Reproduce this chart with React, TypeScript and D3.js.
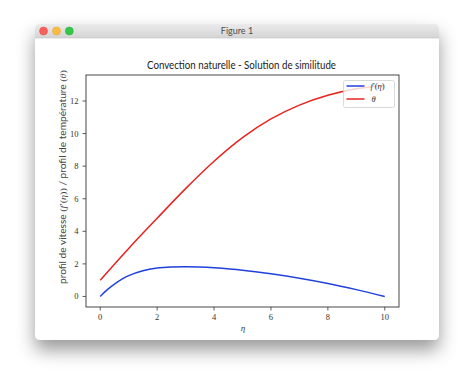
import React from "react";
import * as d3 from "d3";

const etaF = [0, 0.25, 0.5, 0.75, 1, 1.5, 2, 2.5, 3, 3.5, 4, 5, 6, 7, 8, 9, 10];
const fPrime = [0, 0.42, 0.76, 1.05, 1.28, 1.58, 1.74, 1.81, 1.83, 1.81, 1.76, 1.61, 1.39, 1.12, 0.8, 0.42, 0];
const etaT = [0, 1, 2, 3, 4, 5, 6, 7, 8, 9, 10];
const theta = [1.0, 2.95, 4.8, 6.62, 8.3, 9.75, 10.9, 11.75, 12.35, 12.75, 12.95];
const xTicks = [0, 2, 4, 6, 8, 10];
const yTicks = [0, 2, 4, 6, 8, 10, 12];
const titleText = "Convection naturelle - Solution de similitude";

export default function App() {
  const W = 474, H = 387;
  const L = 86, R = 399, T = 75, B = 307;
  const x = d3.scaleLinear().domain([-0.5, 10.5]).range([L, R]);
  const yMax = 12.95;
  const y = d3.scaleLinear().domain([-0.05 * yMax, yMax * 1.05]).range([B, T]);
  const line = d3.line<[number, number]>().x(d => x(d[0])).y(d => y(d[1])).curve(d3.curveCatmullRom.alpha(0.5));
  const fData = etaF.map((e, i) => [e, fPrime[i]] as [number, number]);
  const tData = etaT.map((e, i) => [e, theta[i]] as [number, number]);
  const blue = "#2141dc";
  const red = "#e8231f";
  const serif = "'Liberation Serif', 'DejaVu Serif', serif";
  const sans = "Lato, 'DejaVu Sans', sans-serif";
  return (
    <svg width={W} height={H} style={{ position: "fixed", left: 0, top: 0, background: "#fff" }}>
      <defs>
        <filter id="sh" x="-20%" y="-20%" width="140%" height="150%">
          <feDropShadow dx="0" dy="10" stdDeviation="9" floodColor="#000" floodOpacity="0.4" />
        </filter>
        <linearGradient id="tb" x1="0" y1="0" x2="0" y2="1">
          <stop offset="0" stopColor="#ebebeb" />
          <stop offset="1" stopColor="#d4d4d4" />
        </linearGradient>
        <clipPath id="clip"><rect x={L} y={T} width={R - L} height={B - T} /></clipPath>
      </defs>
      <rect x={0} y={0} width={W} height={H} fill="#fff" />
      <rect x={35} y={24} width={404} height={316} rx={5} fill="#fff" filter="url(#sh)" />
      <path d={`M35,38 L35,29 Q35,24 40,24 L434,24 Q439,24 439,29 L439,38 Z`} fill="url(#tb)" />
      <line x1={35} x2={439} y1={38} y2={38} stroke="#c4c4c4" strokeWidth={0.6} />
      <circle cx={43.5} cy={31} r={4} fill="#fc605b" stroke="#de4a45" strokeWidth={0.5} />
      <circle cx={56.5} cy={31} r={4} fill="#fdbc40" stroke="#de9f34" strokeWidth={0.5} />
      <circle cx={69.3} cy={31} r={4} fill="#34c84a" stroke="#27aa35" strokeWidth={0.5} />
      <text x={237} y={34} textAnchor="middle" fontFamily={sans} fontSize={9} fill="#4d4d4d">Figure 1</text>

      <text x={241.5} y={68.5} textAnchor="middle" fontFamily={sans} fontSize={11} fill="#222" textLength={189} lengthAdjust="spacingAndGlyphs">{titleText}</text>

      <g clipPath="url(#clip)">
        <path d={line(tData) || ""} fill="none" stroke={red} strokeWidth={1.5} />
        <path d={line(fData) || ""} fill="none" stroke={blue} strokeWidth={1.5} />
      </g>
      <rect x={L} y={T} width={R - L} height={B - T} fill="none" stroke="#333" strokeWidth={0.9} />

      {xTicks.map(t => (
        <g key={"x" + t}>
          <line x1={x(t)} x2={x(t)} y1={B} y2={B + 3.5} stroke="#333" strokeWidth={0.8} />
          <text x={x(t)} y={319.5} textAnchor="middle" fontFamily={serif} fontSize={8.5} fill="#333">{t}</text>
        </g>
      ))}
      {yTicks.map(t => (
        <g key={"y" + t}>
          <line x1={L - 3.5} x2={L} y1={y(t)} y2={y(t)} stroke="#333" strokeWidth={0.8} />
          <text x={78.5} y={y(t) + 3} textAnchor="end" fontFamily={serif} fontSize={8.5} fill="#333">{t}</text>
        </g>
      ))}
      <text x={243} y={331} textAnchor="middle" fontFamily={serif} fontStyle="italic" fontSize={9} fill="#333">η</text>

      <text transform="translate(66,177) rotate(-90)" textAnchor="middle" fontFamily={sans} fontSize={8.5} fill="#444" textLength={214} lengthAdjust="spacingAndGlyphs">
        profil de vitesse <tspan fontFamily={serif}>(</tspan><tspan fontFamily={serif} fontStyle="italic">f</tspan><tspan fontFamily={serif}>′(</tspan><tspan fontFamily={serif} fontStyle="italic">η</tspan><tspan fontFamily={serif}>))</tspan> / profil de température <tspan fontFamily={serif}>(</tspan><tspan fontFamily={serif} fontStyle="italic">θ</tspan><tspan fontFamily={serif}>)</tspan>
      </text>

      <rect x={343.5} y={80.5} width={51} height={27} rx={2} fill="#fff" fillOpacity={0.8} stroke="#d0d0d0" strokeWidth={0.8} />
      <line x1={346.5} x2={364.5} y1={86} y2={86} stroke={blue} strokeWidth={1.5} />
      <line x1={346.5} x2={364.5} y1={99} y2={99} stroke={red} strokeWidth={1.5} />
      <text x={370.5} y={89} fontFamily={serif} fontSize={8.5} fill="#333">
        <tspan fontStyle="italic">f</tspan>′(<tspan fontStyle="italic">η</tspan>)
      </text>
      <text x={371.5} y={102} fontFamily={serif} fontSize={8.5} fontStyle="italic" fill="#333">θ</text>
    </svg>
  );
}
